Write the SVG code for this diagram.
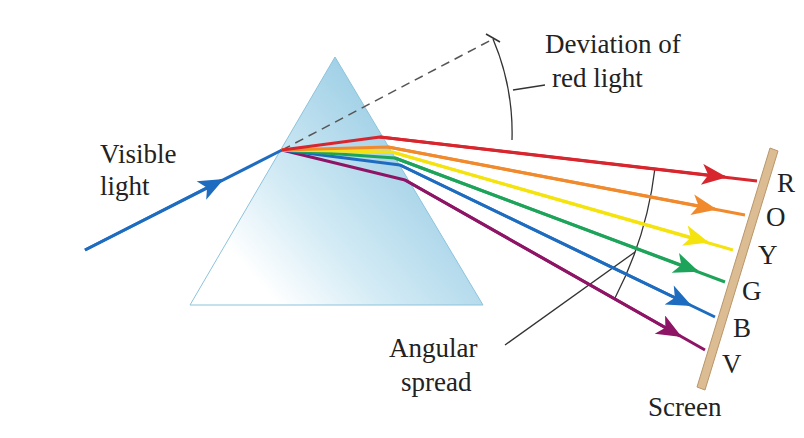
<svg xmlns="http://www.w3.org/2000/svg" width="804" height="438" viewBox="0 0 804 438">
<style>
text{font-family:"Liberation Serif",serif;font-size:27px;fill:#222}
.ray{fill:none;stroke-width:3;stroke-linejoin:round}
.thin{fill:none;stroke:#333;stroke-width:1.3}
</style>
<defs>
<linearGradient id="pg" x1="0.15" y1="0.8" x2="0.75" y2="0.35">
<stop offset="0" stop-color="#ffffff"/><stop offset="0.4" stop-color="#d3ebf5"/><stop offset="1" stop-color="#a2d1e7"/>
</linearGradient>
<marker id="mR" viewBox="0 0 12 10" refX="11" refY="5" markerWidth="9" markerHeight="7" orient="auto" markerUnits="strokeWidth"><path d="M0,0L12,5L0,10L3,5z" fill="#d7262e"/></marker>
<marker id="mO" viewBox="0 0 12 10" refX="11" refY="5" markerWidth="9" markerHeight="7" orient="auto" markerUnits="strokeWidth"><path d="M0,0L12,5L0,10L3,5z" fill="#f08a2c"/></marker>
<marker id="mY" viewBox="0 0 12 10" refX="11" refY="5" markerWidth="9" markerHeight="7" orient="auto" markerUnits="strokeWidth"><path d="M0,0L12,5L0,10L3,5z" fill="#f5e30f"/></marker>
<marker id="mG" viewBox="0 0 12 10" refX="11" refY="5" markerWidth="9" markerHeight="7" orient="auto" markerUnits="strokeWidth"><path d="M0,0L12,5L0,10L3,5z" fill="#1ea45a"/></marker>
<marker id="mB" viewBox="0 0 12 10" refX="11" refY="5" markerWidth="9" markerHeight="7" orient="auto" markerUnits="strokeWidth"><path d="M0,0L12,5L0,10L3,5z" fill="#1e6cc0"/></marker>
<marker id="mV" viewBox="0 0 12 10" refX="11" refY="5" markerWidth="9" markerHeight="7" orient="auto" markerUnits="strokeWidth"><path d="M0,0L12,5L0,10L3,5z" fill="#8e1466"/></marker>
</defs>
<g id="prism"><polygon points="335,57 190,305 483,305" fill="url(#pg)" stroke="#8cc3dc" stroke-width="1"/></g>
<g id="screen"><polygon points="770,148 778,151 705,390 697,387" fill="#dcbc92" stroke="#b8966a" stroke-width="1"/></g>
<g id="connectors">
<line x1="282" y1="150" x2="493" y2="39" stroke="#555" stroke-width="1.5" stroke-dasharray="9,6"/>
<line x1="486" y1="34" x2="500" y2="42" stroke="#333" stroke-width="1.5"/>
<path class="thin" d="M493,39 A240,240 0 0 1 512,140"/>
<line class="thin" x1="513" y1="90" x2="545" y2="85"/>
<path class="thin" d="M655,168 A380,380 0 0 1 615,298"/>
<line class="thin" x1="635" y1="252" x2="505" y2="345"/>
<path class="ray" stroke="#1e6cc0" d="M85,250L282,150"/>
<path class="ray" stroke="#1e6cc0" d="M85,250L222,180" marker-end="url(#mB)"/>
<path class="ray" stroke="#8e1466" d="M282,150L405,180L705,350"/>
<path class="ray" stroke="#8e1466" d="M405,180L680,336" marker-end="url(#mV)"/>
<path class="ray" stroke="#1e6cc0" d="M282,150L400,165L715,317"/>
<path class="ray" stroke="#1e6cc0" d="M400,165L690,305" marker-end="url(#mB)"/>
<path class="ray" stroke="#1ea45a" d="M282,150L395,158L725,282"/>
<path class="ray" stroke="#1ea45a" d="M395,158L697,271" marker-end="url(#mG)"/>
<path class="ray" stroke="#f5e30f" d="M282,150L392,152L733,250"/>
<path class="ray" stroke="#f5e30f" d="M392,152L707,242" marker-end="url(#mY)"/>
<path class="ray" stroke="#f08a2c" d="M282,150L388,147L745,215"/>
<path class="ray" stroke="#f08a2c" d="M388,147L715,209" marker-end="url(#mO)"/>
<path class="ray" stroke="#d7262e" d="M282,150L380,137L757,181"/>
<path class="ray" stroke="#d7262e" d="M380,137L725,177" marker-end="url(#mR)"/>
</g>
<g id="labels">
<text x="100" y="163">Visible</text>
<text x="100" y="195">light</text>
<text x="545" y="53">Deviation of</text>
<text x="552" y="87">red light</text>
<text x="389" y="357">Angular</text>
<text x="401" y="391">spread</text>
<text x="648" y="416">Screen</text>
<text x="777" y="192">R</text>
<text x="766" y="226">O</text>
<text x="758" y="264">Y</text>
<text x="742" y="300">G</text>
<text x="733" y="337">B</text>
<text x="722" y="373">V</text>
</g>
</svg>
